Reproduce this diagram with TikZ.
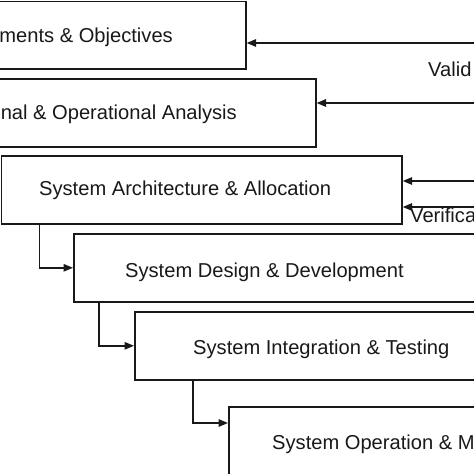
\documentclass[tikz,border=0pt]{standalone}
\usepackage{fontspec}
\setmainfont{Liberation Sans}
\usetikzlibrary{arrows.meta}

\tikzset{
  phase/.style={draw=black!90, line width=1.6bp, fill=white, inner sep=0pt,
    minimum height=68bp, anchor=north west},
  phaselabel/.style={font=\fontsize{20.2}{24}\selectfont, text=black!90, inner sep=0pt},
  flow/.style={draw=black!90, line width=1.5bp, -{Triangle[length=9.5bp,width=7.5bp]}}
}

\begin{document}
\begin{tikzpicture}[x=1bp, y=-1bp]

            \useasboundingbox (0,0) rectangle (474,474);
            \clip (0,0) rectangle (474,474);

            %Phases
            \node[phase, minimum width=445bp, minimum height=67.5bp] (req) at (-200,0.6) {};
            \node[phase, minimum width=415bp] (ana) at (-100,78) {};
            \node[phase, minimum width=400.3bp] (arch) at (0.8,155) {};
            \node[phase, minimum width=527bp] (design) at (73,233) {};
            \node[phase, minimum width=566bp] (integ) at (134,311) {};
            \node[phase, minimum width=572bp, minimum height=120bp] (oper) at (228,406) {};

            %Labels
            \node[phaselabel, anchor=base east] (lreq) at (173,43) {ments \& Objectives};
            \node[phaselabel, anchor=base east] (lana) at (237,120) {nal \& Operational Analysis};
            \node[phaselabel, anchor=base west] (larch) at (39,196) {System Architecture \& Allocation};
            \node[phaselabel, anchor=base west] (ldesign) at (125,277) {System Design \& Development};
            \node[phaselabel, anchor=base west] (linteg) at (193,354) {System Integration \& Testing};
            \node[phaselabel, anchor=base west] (loper) at (272,449) {System Operation \& M};

            %Edges
                %Down the cascade
            \draw[flow] ([xshift=38.5bp]arch.south west) |- (design.west);
            \draw[flow] ([xshift=26bp]design.south west) |- (integ.west);
            \draw[flow] ([xshift=59bp]integ.south west) |- ([yshift=-17bp]oper.north west);

                %Back from the right
            \coordinate (vreq) at (474,43);
            \coordinate (vana) at (474,103);
            \coordinate (varch) at (474,181);
            \coordinate (verarch) at (474,207);
            \draw[flow] (vreq) -- (vreq -| req.east);
            \draw[flow] (vana) -- (vana -| ana.east);
            \draw[flow] (varch) -- (varch -| arch.east);
            \draw[flow] (verarch) -- (verarch -| arch.east);

            \node[phaselabel, anchor=base west] (lvalid) at (428,77) {Valid};
            \node[phaselabel, anchor=base west] (lverif) at (410,223) {Verifica};

\end{tikzpicture}
\end{document}
